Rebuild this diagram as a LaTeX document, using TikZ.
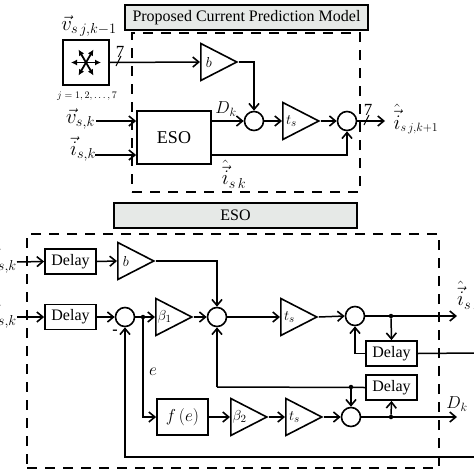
\documentclass[tikz,border=0pt]{standalone}
\usepackage{fontspec}
\setmainfont{Liberation Serif}
\usetikzlibrary{shapes.geometric,arrows.meta,calc}
\definecolor{titlegray}{RGB}{230,233,231}
\tikzset{
  sig/.style={line width=1.5pt,-{Straight Barb[length=6pt,width=10pt,line width=1.6pt]}},
  wire/.style={line width=1.5pt},
  dashbox/.style={draw,line width=1.6pt,dash pattern=on 10pt off 8pt,inner sep=0pt},
  titlebox/.style={draw,line width=1.8pt,fill=titlegray,inner sep=0pt,font=\fontsize{16}{18}\selectfont},
  block/.style={draw,line width=1.8pt,fill=white,inner sep=0pt,font=\fontsize{16}{18}\selectfont},
  amp/.style={draw,line width=1.6pt,fill=white,isosceles triangle,isosceles triangle stretches,shape border rotate=0,minimum width=37pt,minimum height=36pt,inner sep=0pt,anchor=lower side,font=\fontsize{15}{16}\selectfont},
  sumnode/.style={draw,line width=1.6pt,fill=white,circle,minimum size=19pt,inner sep=0pt},
  dot/.style={fill,circle,minimum size=4.5pt,inner sep=0pt},
  lab/.style={inner sep=0pt,font=\fontsize{20}{22}\selectfont},
}
\begin{document}
\begin{tikzpicture}[x=1pt,y=-1pt]
\useasboundingbox (0,0) rectangle (474,474);

% prediction model
\node[dashbox,minimum width=228pt,minimum height=159pt] (modelbox) at (246,112.5) {};
\node[titlebox,minimum width=243pt,minimum height=25pt] (modeltitle) at (246.5,17.5) {Proposed Current Prediction Model};
\node[block,minimum width=46pt,minimum height=45pt] (switch) at (86,62.5) {};
\coordinate (switchc) at (86,62.5);
\foreach \ang in {0,60,120}
  \draw[line width=1.8pt,{Latex[length=6pt,width=6pt]}-{Latex[length=6pt,width=6pt]}] ($(switchc)+(\ang:15pt)$) -- ($(switchc)+(\ang+180:15pt)$);
\node[amp] (ampb) at (200,62) {$b\;$};
\node[block,minimum width=74pt,minimum height=53pt,font=\fontsize{18}{20}\selectfont] (eso) at (174,137.5) {ESO};
\node[sumnode] (sumd) at (254,121) {};
\node[amp] (ampt) at (282,121) {$t_s\;$};
\node[sumnode] (sumi) at (347,121) {};
\coordinate (vin) at (96,121);
\coordinate (iin) at (95,155);
\coordinate (iout) at (385,121);
\coordinate (esod) at (211,121);
\coordinate (esoi) at (211,155);

\draw[sig] (switch.east) -- (ampb.lower side);
\draw[sig] (vin) -- (vin -| eso.west);
\draw[sig] (iin) -- (iin -| eso.west);
\draw[sig] (esod) -- (sumd.west);
\draw[sig] (ampb.apex) -| (sumd.north);
\draw[sig] (sumd.east) -- (ampt.lower side);
\draw[sig] (ampt.apex) -- (sumi.west);
\draw[sig] (esoi) -| (sumi.south);
\draw[sig] (sumi.east) -- (iout);
\draw[line width=1pt] (116,66) -- (121,56);
\draw[line width=1pt] (364,125) -- (369,115);

\node[lab,font=\fontsize{17}{19}\selectfont] (l7a) at (120,52) {7};
\node[lab,font=\fontsize{17}{19}\selectfont] (l7b) at (368,110) {7};
\node[lab] (lvj) at (89,26) {$\vec{v}_{s\,j,k-1}$};
\node[lab,font=\fontsize{10}{12}\selectfont] (lj) at (87,96) {$j=1,2,\ldots,7$};
\node[lab] (lvk) at (80.5,119) {$\vec{v}_{s,k}$};
\node[lab] (lik) at (83,149) {$\vec{i}_{s,k}$};
\node[lab,font=\fontsize{18}{20}\selectfont] (ldk) at (226,109) {$D_k$};
\node[lab] (lihat) at (234,174) {$\hat{\vec{i}}_{s\,k}$};
\node[lab,font=\fontsize{17}{19}\selectfont] (lihatj) at (416,119) {$\mbox{\fontsize{20}{22}\selectfont$\hat{\vec{i}}$}_{s\,j,k+1}$};

% observer
\node[dashbox,minimum width=412pt,minimum height=234pt] (esobox) at (233,351) {};
\node[titlebox,minimum width=243pt,minimum height=25pt] (esotitle) at (235.5,215.5) {ESO};
\node[block,minimum width=51pt,minimum height=25pt] (delaya) at (70.5,261.5) {Delay};
\node[block,minimum width=51pt,minimum height=25pt] (delayb) at (70.5,317) {Delay};
\node[amp] (ampc) at (117,261) {$b\;$};
\node[sumnode] (sume) at (125,317) {};
\node[amp] (ampd) at (155,317) {$\beta_1\;$};
\node[sumnode] (sumf) at (217,317) {};
\node[amp] (ampe) at (280,317) {$t_s\;$};
\node[sumnode] (sumg) at (355,316) {};
\node[block,minimum width=51pt,minimum height=25pt] (delayc) at (391.5,353.5) {Delay};
\node[block,minimum width=51pt,minimum height=25pt] (delayd) at (391.5,387.5) {Delay};
\node[block,minimum width=51pt,minimum height=36pt] (fe) at (182.5,417) {$f\,(e)$};
\node[amp] (ampf) at (230,417) {$\beta_2\;$};
\node[amp] (ampg) at (285,417) {$t_s\;$};
\node[sumnode] (sumh) at (351,417) {};
\node[dot] (dota) at (143,317) {};
\node[dot] (dotb) at (391,316) {};
\node[dot] (dotc) at (351,387) {};
\node[dot] (dotd) at (391,417) {};
\coordinate (ina) at (17,262);
\coordinate (inb) at (17,317);
\coordinate (outi) at (457,316);
\coordinate (outd) at (457,417);
\coordinate (outfb) at (474,353);
\coordinate (outbt) at (474,457);
\coordinate (bendfb) at (217,387);

\draw[sig] (ina) -- (delaya.west);
\draw[sig] (inb) -- (delayb.west);
\draw[sig] (delaya.east) -- (ampc.lower side);
\draw[sig] (delayb.east) -- (sume.west);
\draw[sig] (sume.east) -- (ampd.lower side);
\draw[sig] (ampd.apex) -- (sumf.west);
\draw[sig] (ampc.apex) -| (sumf.north);
\draw[sig] (sumf.east) -- (ampe.lower side);
\draw[sig] (ampe.apex) -- (sumg.west);
\draw[sig] (sumg.east) -- (outi);
\draw[sig] (dotb) -- (delayc.north);
\draw[sig] (delayc.west) -| (sumg.south);
\draw[wire] (delayc.east) -- (outfb);
\draw[sig] (dota) |- (fe.west);
\draw[sig] (fe.east) -- (ampf.lower side);
\draw[sig] (ampf.apex) -- (ampg.lower side);
\draw[sig] (ampg.apex) -- (sumh.west);
\draw[sig] (sumh.east) -- (outd);
\draw[sig] (dotd) -- (delayd.south);
\draw[sig] (dotc) -- (sumh.north);
\draw[wire] (delayd.west) -- (bendfb);
\draw[sig] (bendfb) -- (sumf.south);
\draw[sig] (outbt) -| (sume.south);

\node[lab,font=\bfseries\fontsize{16}{18}\selectfont] (lminus) at (115,332) {-};
\node[lab,font=\fontsize{16}{18}\selectfont] (le) at (153,372) {$e$};
\node[lab,anchor=east] (lia) at (17,258) {$\hat{\vec{i}}_{s,k}$};
\node[lab,anchor=east] (lib) at (17,316) {$\vec{i}_{s,k}$};
\node[lab,anchor=west] (lic) at (457,295) {$\hat{\vec{i}}_{s\,k}$};
\node[lab,font=\fontsize{18}{20}\selectfont] (ldkb) at (457,404) {$D_k$};
\end{tikzpicture}
\end{document}
